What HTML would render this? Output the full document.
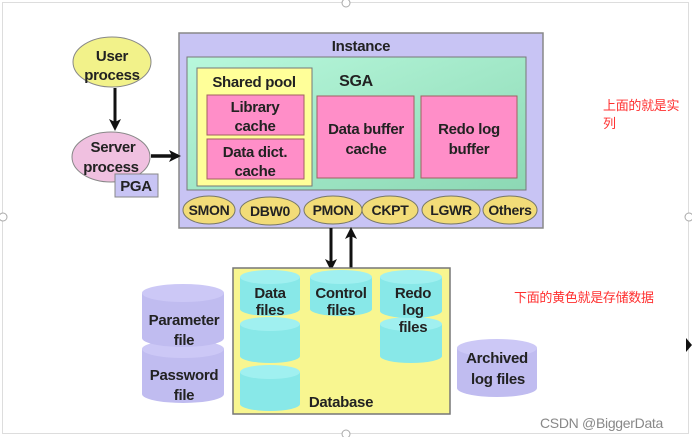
<!DOCTYPE html>
<html><head><meta charset="utf-8"><style>
html,body{margin:0;padding:0;background:#fff;width:692px;height:437px;overflow:hidden}
svg text{font-family:"Liberation Sans",sans-serif;font-weight:bold;fill:#222;letter-spacing:-0.3px}
</style></head><body>
<svg width="692" height="437" viewBox="0 0 692 437" xmlns="http://www.w3.org/2000/svg">
<defs>
<linearGradient id="sga" x1="0" y1="0" x2="1" y2="1"><stop offset="0" stop-color="#b8f8dc"/><stop offset="1" stop-color="#8cd8b4"/></linearGradient>
<marker id="ah" markerWidth="12" markerHeight="12" refX="9" refY="6" orient="auto" markerUnits="userSpaceOnUse"><path d="M0,0 L12,6 L0,12 L3,6 z" fill="#111"/></marker>
</defs>
<rect x="2.5" y="2.5" width="686" height="431" fill="none" stroke="#ddd"/>
<circle cx="3" cy="217" r="4" fill="#fff" stroke="#aaa"/>
<circle cx="689" cy="217" r="4" fill="#fff" stroke="#aaa"/>
<circle cx="346" cy="3" r="4" fill="#fff" stroke="#aaa"/>
<circle cx="346" cy="434" r="4" fill="#fff" stroke="#aaa"/>
<path d="M686,338 L692,345 L686,352 z" fill="#111"/>

<rect x="179" y="33" width="364" height="195" fill="#c8c4f4" stroke="#888" stroke-width="1.5"/>
<text x="361" y="51" font-size="15" text-anchor="middle">Instance</text>
<rect x="187" y="57" width="339" height="133" fill="url(#sga)" stroke="#777"/>
<text x="356" y="86" font-size="16" text-anchor="middle">SGA</text>
<rect x="197" y="68" width="115" height="118" fill="#ffff99" stroke="#777"/>
<text x="254" y="87" font-size="15" text-anchor="middle">Shared pool</text>
<rect x="207" y="95" width="97" height="40" fill="#ff8ec8" stroke="#a06060"/>
<text x="255" y="112" font-size="15" text-anchor="middle">Library</text>
<text x="255" y="131" font-size="15" text-anchor="middle">cache</text>
<rect x="207" y="139" width="97" height="40" fill="#ff8ec8" stroke="#a06060"/>
<text x="255" y="157" font-size="15" text-anchor="middle">Data dict.</text>
<text x="255" y="176" font-size="15" text-anchor="middle">cache</text>
<rect x="317" y="96" width="97" height="82" fill="#ff8ec8" stroke="#a06060"/>
<text x="366" y="134" font-size="15" text-anchor="middle">Data buffer</text>
<text x="366" y="154" font-size="15" text-anchor="middle">cache</text>
<rect x="421" y="96" width="96" height="82" fill="#ff8ec8" stroke="#a06060"/>
<text x="469" y="134" font-size="15" text-anchor="middle">Redo log</text>
<text x="469" y="154" font-size="15" text-anchor="middle">buffer</text>
<g fill="#f2dc78" stroke="#776">
<ellipse cx="209" cy="210" rx="26" ry="14"/>
<ellipse cx="270" cy="211" rx="30" ry="14"/>
<ellipse cx="333" cy="210" rx="29" ry="14"/>
<ellipse cx="390" cy="210" rx="28" ry="14"/>
<ellipse cx="451" cy="210" rx="29" ry="14"/>
<ellipse cx="510" cy="210" rx="27" ry="14"/>
</g>
<g font-size="14" text-anchor="middle">
<text x="209" y="215">SMON</text>
<text x="270" y="216">DBW0</text>
<text x="333" y="215">PMON</text>
<text x="390" y="215">CKPT</text>
<text x="451" y="215">LGWR</text>
<text x="510" y="215">Others</text>
</g>

<ellipse cx="112" cy="62" rx="39" ry="25" fill="#f2f28a" stroke="#888"/>
<text x="112" y="61" font-size="15" text-anchor="middle">User</text>
<text x="112" y="80" font-size="15" text-anchor="middle">process</text>
<line x1="115" y1="88" x2="115" y2="128" stroke="#111" stroke-width="3" marker-end="url(#ah)"/>
<ellipse cx="111" cy="157" rx="39" ry="25" fill="#f0c0e0" stroke="#888"/>
<text x="113" y="152" font-size="15" text-anchor="middle">Server</text>
<text x="111" y="172" font-size="15" text-anchor="middle">process</text>
<rect x="115" y="174" width="43" height="23" fill="#c8c4f4" stroke="#888"/>
<text x="136" y="191" font-size="15" text-anchor="middle">PGA</text>
<line x1="151" y1="156" x2="178" y2="156" stroke="#111" stroke-width="3.5" marker-end="url(#ah)"/>

<line x1="331" y1="228" x2="331" y2="268" stroke="#111" stroke-width="3" marker-end="url(#ah)"/>
<line x1="351" y1="268" x2="351" y2="230" stroke="#111" stroke-width="3" marker-end="url(#ah)"/>

<rect x="233" y="268" width="217" height="146" fill="#f8f690" stroke="#777" stroke-width="1.5"/>
<text x="341" y="407" font-size="15" text-anchor="middle">Database</text>
<g fill="#88e8e8" stroke="none">
<path d="M240,372 v32 a30,7 0 0 0 60,0 v-32 z"/><ellipse cx="270" cy="372" rx="30" ry="7" fill="#a0f0f0"/>
<path d="M240,324 v32 a30,7 0 0 0 60,0 v-32 z"/><ellipse cx="270" cy="324" rx="30" ry="7" fill="#a0f0f0"/>
<path d="M240,277 v32 a30,7 0 0 0 60,0 v-32 z"/><ellipse cx="270" cy="277" rx="30" ry="7" fill="#a0f0f0"/>
<path d="M310,277 v32 a31,7 0 0 0 62,0 v-32 z"/><ellipse cx="341" cy="277" rx="31" ry="7" fill="#a0f0f0"/>
<path d="M380,324 v32 a31,7 0 0 0 62,0 v-32 z"/><ellipse cx="411" cy="324" rx="31" ry="7" fill="#a0f0f0"/>
<path d="M380,277 v34 a31,7 0 0 0 62,0 v-34 z"/><ellipse cx="411" cy="277" rx="31" ry="7" fill="#a0f0f0"/>
</g>
<g font-size="15" text-anchor="middle">
<text x="270" y="298">Data</text><text x="270" y="315">files</text>
<text x="341" y="298">Control</text><text x="341" y="315">files</text>
<text x="413" y="298">Redo</text><text x="413" y="315">log</text><text x="413" y="332">files</text>
</g>

<g fill="#c0bcf0">
<path d="M142,349 v45 a41,9 0 0 0 82,0 v-45 z"/><ellipse cx="183" cy="349" rx="41" ry="9" fill="#ccc8f6"/>
<path d="M142,293 v45 a41,9 0 0 0 82,0 v-45 z"/><ellipse cx="183" cy="293" rx="41" ry="9" fill="#ccc8f6"/>
<path d="M457,348 v40 a40,9 0 0 0 80,0 v-40 z"/><ellipse cx="497" cy="348" rx="40" ry="9" fill="#ccc8f6"/>
</g>
<g font-size="15" text-anchor="middle">
<text x="184" y="325">Parameter</text><text x="184" y="345">file</text>
<text x="184" y="380">Password</text><text x="184" y="400">file</text>
<text x="497" y="363">Archived</text><text x="498" y="384">log files</text>
</g>

<g font-size="13">
<text x="603" y="110" style="fill:#ff3030;font-weight:normal;font-family:'Liberation Sans','Noto Sans CJK SC',sans-serif">上面的就是实</text>
<text x="603" y="128" style="fill:#ff3030;font-weight:normal;font-family:'Liberation Sans','Noto Sans CJK SC',sans-serif">列</text>
<text x="514" y="302" style="fill:#ff3030;font-weight:normal;font-family:'Liberation Sans','Noto Sans CJK SC',sans-serif">下面的黄色就是存储数据</text>
</g>
<text x="540" y="428" font-size="14" style="fill:#888;font-weight:normal">CSDN @BiggerData</text>
</svg>
</body></html>
